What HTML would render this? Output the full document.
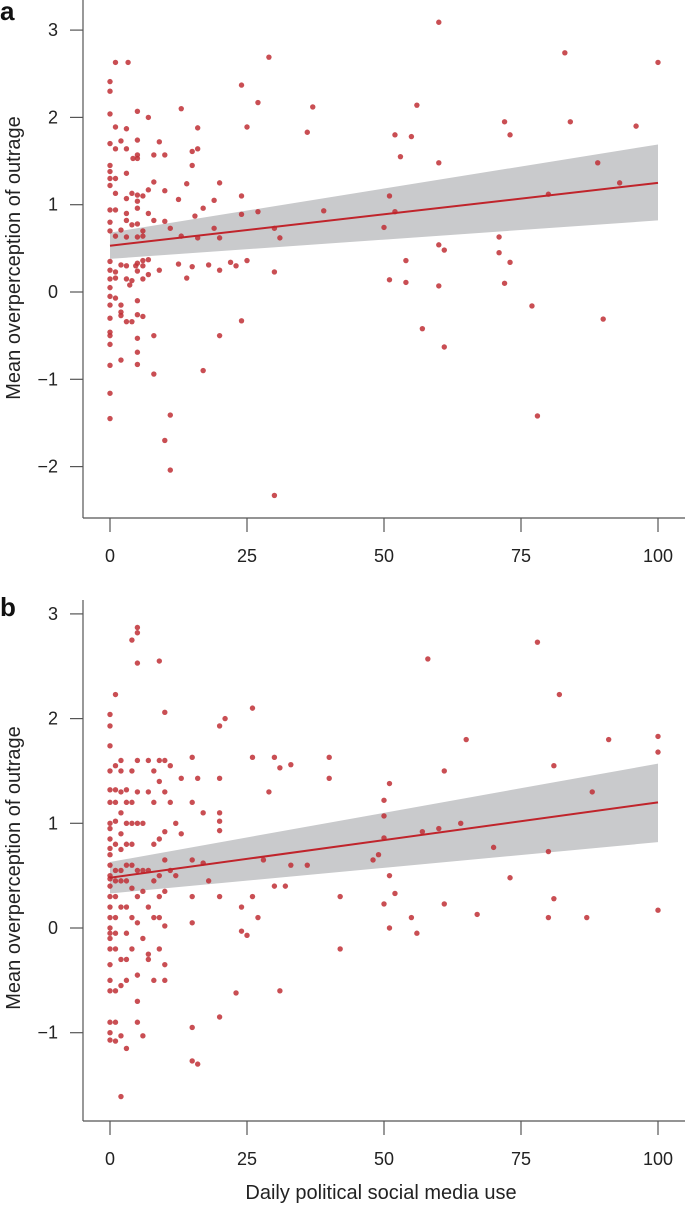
<!DOCTYPE html>
<html><head><meta charset="utf-8">
<style>
html,body{margin:0;padding:0;background:#fff;}
svg{display:block;font-family:"Liberation Sans",sans-serif;}
</style></head>
<body>
<svg id="chart" width="685" height="1205" viewBox="0 0 685 1205" xmlns="http://www.w3.org/2000/svg"></svg>
<script>
// ---- Data ----
const xTicks = [0, 25, 50, 75, 100];
const yTicksA = [3, 2, 1, 0, -1, -2];
const yTicksB = [3, 2, 1, 0, -1];
const yTickLabels = {"3":"3","2":"2","1":"1","0":"0","-1":"\u22121","-2":"\u22122"};

const ptsAx = [1,3.3,0,0,0,5,7,1,3,0,2,1,3,5,9,10,8,5,4.2,5,0,0,0,0,3,1,8,7,10,5,3,4,5,1,6,0,1,5,7,3,3,4,5,8,10,11,0,0,1,2,3,5,6,6,2,3,4.7,6,5,7,6,9,0,0,0,1,1,3,4,3.6,6,7,5,0,0,0,1,2,2,2,3,4,5,5,6,0,0,0,0,2,5,5,5,8,8,0,0,0,10,11,11,
13,16,16,15,15,14,20,19,17,15.5,16,19,20,15,12.5,14,18,20,22,23,20,17,13,12.5,
24,27,25,24,24,27,25,24,29,30,31,30,30,37,36,39,50,51,52,52,51,53,55,54,54,56,57,60,60,60,61,60,61,72,73,71,71,72,73,77,78,83,84,96,89,93,80,90,100];
const ptsAy = [2.63,2.63,2.41,2.3,2.04,2.07,2.0,1.89,1.87,1.7,1.73,1.64,1.64,1.74,1.72,1.57,1.57,1.57,1.53,1.53,1.45,1.38,1.3,1.22,1.36,1.3,1.26,1.17,1.16,1.11,1.07,1.13,1.04,1.13,1.1,0.94,0.94,0.96,0.9,0.9,0.82,0.77,0.78,0.82,0.81,0.73,0.8,0.7,0.64,0.71,0.63,0.63,0.7,0.64,0.31,0.3,0.3,0.3,0.33,0.37,0.36,0.25,0.35,0.25,0.15,0.23,0.16,0.15,0.13,0.08,0.15,0.2,0.24,0.05,-0.05,-0.15,-0.07,-0.15,-0.23,-0.27,-0.34,-0.34,-0.1,-0.26,-0.28,-0.3,-0.46,-0.5,-0.6,-0.78,-0.53,-0.69,-0.83,-0.5,-0.94,-0.84,-1.16,-1.45,-1.7,-1.41,-2.04,
2.1,1.88,1.64,1.61,1.45,1.24,1.25,1.05,0.96,0.87,0.62,0.73,0.62,0.29,0.32,0.16,0.31,0.25,0.34,0.3,-0.5,-0.9,0.64,1.06,
2.37,2.17,1.89,1.1,0.89,0.92,0.36,-0.33,2.69,0.73,0.62,0.23,-2.33,2.12,1.83,0.93,0.74,1.1,1.8,0.92,0.14,1.55,1.78,0.36,0.11,2.14,-0.42,3.09,1.48,0.54,0.48,0.07,-0.63,1.95,1.8,0.63,0.45,0.1,0.34,-0.16,-1.42,2.74,1.95,1.9,1.48,1.25,1.12,-0.31,2.63];

const ptsBx = [0,0,0,0,0,0,0,0,0,0,0,0,0,0,0,0,0,0,0,0,0,0,0,0,0,0,0,0,
1,1,1,1,1,1,1,1,1,1,1,1,1,1,1,
2,2,2,2,2,2,2,2,2,2,2,2,2,
3,3,3,3,3,3,3,3,3,3,3,
4,4,4,4,4,4,4,4,4,
5,5,5,5,5,5,5,5,5,5,5,5,
6,6,6,6,6,7,7,7,7,7,7,8,8,8,8,8,8,
9,9,9,9,9,9,9,9,10,10,10,10,10,10,10,10,10,11,11,11,12,12,13,13,
15,15,15,15,15,15,15,16,16,17,17,18,20,20,20,20,20,20,20,21,23,24,24,25,26,26,26,27,28,29,30,30,31,31,32,33,33,36,40,40,42,42,48,49,
50,50,50,50,51,51,51,52,55,56,57,58,60,61,61,64,65,67,70,73,78,80,80,81,81,82,87,88,91,100,100,100];
const ptsBy = [2.04,1.93,1.74,1.5,1.32,1.2,1.0,0.95,0.85,0.76,0.7,0.6,0.5,0.47,0.4,0.3,0.2,0.1,0,-0.05,-0.1,-0.2,-0.35,-0.5,-0.6,-0.9,-1.0,-1.07,
2.23,1.55,1.32,1.2,1.02,0.8,0.55,0.45,0.3,0.1,-0.05,-0.2,-0.6,-0.9,-1.08,
1.6,1.5,1.3,1.1,0.9,0.75,0.55,0.45,0.2,-0.3,-0.55,-1.03,-1.61,
1.32,1.2,1.0,0.8,0.6,0.45,0.2,-0.05,-0.3,-0.5,-1.15,
2.75,1.5,1.2,1.0,0.8,0.6,0.38,0.1,-0.2,
2.87,2.82,2.53,1.6,1.3,1.0,0.55,0.3,0.05,-0.45,-0.7,-0.9,
1.0,0.55,0.35,-0.1,-1.03,1.6,1.3,0.55,0.2,-0.25,-0.3,1.5,1.2,0.8,0.45,0.1,-0.5,
2.55,1.6,1.4,0.85,0.5,0.3,0.1,-0.2,2.06,1.6,1.3,0.92,0.65,0.35,0.02,-0.35,-0.5,1.55,1.2,0.55,0.5,1.0,1.43,0.9,
1.63,1.2,0.65,0.3,0.05,-0.95,-1.27,1.43,-1.3,1.1,0.62,0.45,1.93,1.43,1.1,1.02,0.93,0.3,-0.85,2.0,-0.62,0.2,-0.03,-0.07,2.1,1.63,0.3,0.1,0.65,1.3,1.63,0.4,1.53,-0.6,0.4,1.56,0.6,0.6,1.63,1.43,0.3,-0.2,0.65,0.7,
1.22,1.07,0.86,0.23,1.38,0.5,0.0,0.33,0.1,-0.05,0.92,2.57,0.95,1.5,0.23,1.0,1.8,0.13,0.77,0.48,2.73,0.73,0.1,1.55,0.28,2.23,0.1,1.3,1.8,1.83,1.68,0.17];

const fitAx = [0, 100], fitAy = [0.53, 1.25], bandAlo = [0.38, 0.82], bandAhi = [0.68, 1.69];
const fitBx = [0, 100], fitBy = [0.48, 1.2], bandBlo = [0.33, 0.82], bandBhi = [0.63, 1.57];

// ---- Drawing ----
const NS = "http://www.w3.org/2000/svg";
const svg = document.getElementById("chart");
function mk(tag, attrs, parent){ const e=document.createElementNS(NS,tag); for(const k in attrs) e.setAttribute(k,attrs[k]); (parent||svg).appendChild(e); return e; }
const xs = v => 110 + v*5.48;

function panel(cfg){
  const g = mk("g",{});
  
  
  const ys = v => cfg.y0 - v*cfg.ppu;
  const band = mk("path",{d:`M${xs(cfg.fx[0])},${ys(cfg.lo[0])}L${xs(cfg.fx[1])},${ys(cfg.lo[1])}L${xs(cfg.fx[1])},${ys(cfg.hi[1])}L${xs(cfg.fx[0])},${ys(cfg.hi[0])}Z`,fill:"#c9cacc"},g);
  
  
  for(let i=0;i<cfg.px.length;i++){
    const c = mk("circle",{cx:xs(cfg.px[i]),cy:ys(cfg.py[i]),r:2.7,fill:"#bf2f35","fill-opacity":0.85},g);
    
    
  }
  const ln = mk("line",{x1:xs(cfg.fx[0]),y1:ys(cfg.fy[0]),x2:xs(cfg.fx[1]),y2:ys(cfg.fy[1]),stroke:"#c0242b","stroke-width":2},g);
  
  
  const ya = mk("line",{x1:83,y1:cfg.top,x2:83,y2:cfg.xAxisY,stroke:"#555","stroke-width":1.2},g);
  
  
  const xa = mk("line",{x1:83,y1:cfg.xAxisY,x2:685,y2:cfg.xAxisY,stroke:"#555","stroke-width":1.2},g);
  
  
  cfg.yt.forEach(v=>{
    mk("line",{x1:70,y1:ys(v),x2:83,y2:ys(v),stroke:"#555","stroke-width":1.2},g);
    const t = mk("text",{x:58,y:ys(v)+6,"text-anchor":"end","font-size":18,fill:"#222"},g);
    t.textContent = yTickLabels[String(v)];
    
    
  });
  xTicks.forEach(v=>{
    mk("line",{x1:xs(v),y1:cfg.xAxisY,x2:xs(v),y2:cfg.xAxisY+14,stroke:"#555","stroke-width":1.2},g);
    const t = mk("text",{x:xs(v),y:cfg.xAxisY+44,"text-anchor":"middle","font-size":18,fill:"#222"},g);
    t.textContent = String(v);
    
    
  });
  const yt = mk("text",{x:0,y:0,"text-anchor":"middle","font-size":20,fill:"#222",transform:`translate(20,${cfg.ymid}) rotate(-90)`},g);
  yt.textContent = "Mean overperception of outrage";
  
  
  const lb = mk("text",{x:0,y:cfg.labelY,"font-size":26,"font-weight":"bold",fill:"#111"},g);
  lb.textContent = cfg.label;
  
  
}

panel({name:"panel-a",label:"a",labelY:20,y0:292,ppu:87.3,top:0,xAxisY:518,ymid:258,yt:yTicksA,
  px:ptsAx,py:ptsAy,fx:fitAx,fy:fitAy,lo:bandAlo,hi:bandAhi});
panel({name:"panel-b",label:"b",labelY:616,y0:928,ppu:104.7,top:600,xAxisY:1121,ymid:868,yt:yTicksB,
  px:ptsBx,py:ptsBy,fx:fitBx,fy:fitBy,lo:bandBlo,hi:bandBhi});

const xt = mk("text",{x:381,y:1199,"text-anchor":"middle","font-size":20,fill:"#222"});
xt.textContent = "Daily political social media use";


</script>
</body></html>
